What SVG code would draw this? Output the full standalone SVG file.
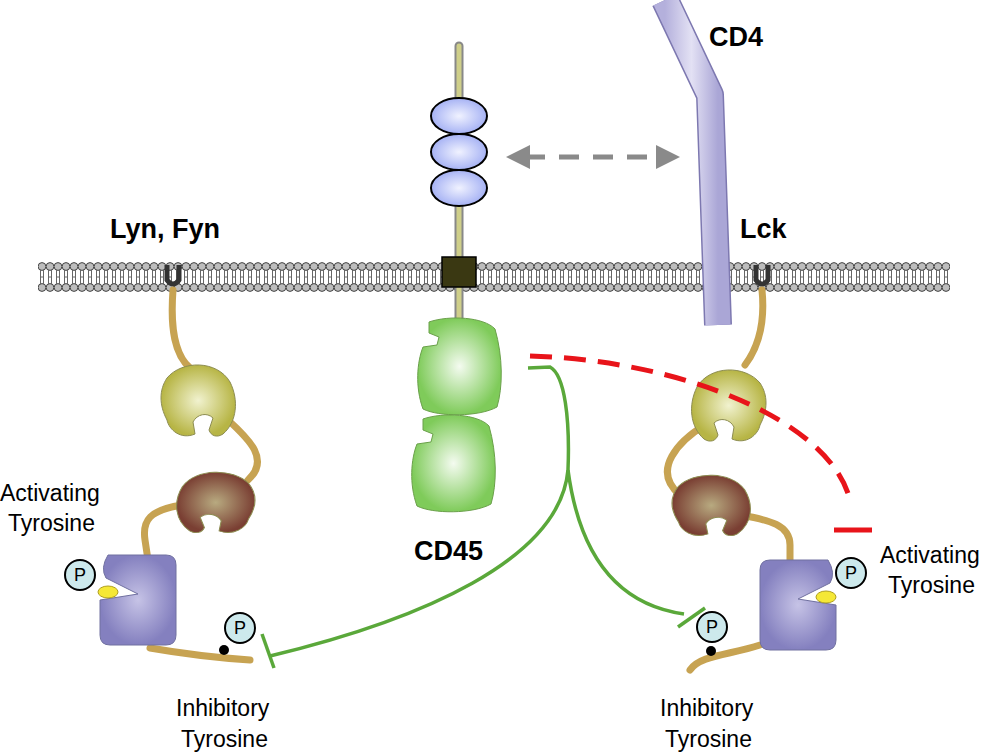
<svg xmlns="http://www.w3.org/2000/svg" width="993" height="753" viewBox="0 0 993 753">
<style>
text{font-family:"Liberation Sans",Arial,sans-serif;fill:#000}
.lbl{font-size:23px}
.bold{font-size:27px;font-weight:bold}
.chain{fill:none;stroke:#c7a352;stroke-width:7;stroke-linecap:round}
.p circle{fill:#cde9ec;stroke:#000;stroke-width:2}
.p text{font-size:18px}
.inh{fill:none;stroke:#5aa83a;stroke-width:3.5}
</style>
<defs>
<pattern id="mem" x="38" y="262" width="8" height="30" patternUnits="userSpaceOnUse">
<line x1="2.5" y1="6" x2="2.5" y2="24" stroke="#666" stroke-width="1"/>
<line x1="5.5" y1="6" x2="5.5" y2="24" stroke="#666" stroke-width="1"/>
<line x1="2.5" y1="15" x2="5.5" y2="15" stroke="#666" stroke-width="1"/>
<ellipse cx="4" cy="4.5" rx="3.9" ry="3.9" fill="#bdbdbd" stroke="#444" stroke-width="1"/>
<ellipse cx="4" cy="25.5" rx="3.9" ry="3.9" fill="#bdbdbd" stroke="#444" stroke-width="1"/>
</pattern>
<radialGradient id="gY"><stop offset="0" stop-color="#f1f2cf"/><stop offset="1" stop-color="#b7b545"/></radialGradient>
<radialGradient id="gB"><stop offset="0" stop-color="#b8aa80"/><stop offset="1" stop-color="#7a3f33"/></radialGradient>
<radialGradient id="gP"><stop offset="0" stop-color="#c6c3e6"/><stop offset="1" stop-color="#8480bf"/></radialGradient>
<radialGradient id="gG"><stop offset="0" stop-color="#f4fbf0"/><stop offset="1" stop-color="#7fcb5a"/></radialGradient>
<radialGradient id="gE"><stop offset="0" stop-color="#f0f2ff"/><stop offset="1" stop-color="#a6b2f4"/></radialGradient>
<linearGradient id="gCD4" x1="0" x2="1"><stop offset="0" stop-color="#b4b0dc"/><stop offset="0.5" stop-color="#e3e1f4"/><stop offset="1" stop-color="#aaa6d6"/></linearGradient>
<path id="yb" d="M-30,-22 C-15,-40 20,-40 33,-18 C42,0 40,22 26,34 C20,38 14,36 12,30 L16,18 C10,12 0,14 -4,22 L-2,34 C-16,40 -28,30 -30,20 C-38,5 -38,-10 -30,-22 Z" stroke="#8c8c50" stroke-width="1"/>
<path id="pb" d="M-30,-45 H28 Q38,-45 38,-35 V35 Q38,45 28,45 H-28 Q-38,45 -38,35 V0 L0,-6 L-32,-22 Q-38,-32 -30,-45 Z" stroke="#7070a0" stroke-width="1"/>
<path id="gb" d="M-30,-45 C-10,-52 25,-50 36,-38 C44,-10 44,20 38,40 C20,50 -20,50 -36,42 C-44,20 -42,-5 -36,-20 L-22,-22 L-20,-30 L-30,-34 Z" stroke="#6aa04a" stroke-width="1"/>
</defs>

<g id="membrane"><rect x="38" y="262" width="912" height="30" fill="url(#mem)"/></g>

<g id="CD4">
<path d="M665,0 L710,95 L718,325" fill="none" stroke="#7d78b0" stroke-width="28" stroke-linejoin="round"/>
<path d="M665,0 L710,95 L718,325" fill="none" stroke="url(#gCD4)" stroke-width="25" stroke-linejoin="round"/>
<text class="bold" x="709" y="46">CD4</text>
</g>

<g id="CD45">
<line x1="459" y1="46" x2="459" y2="330" stroke="#888" stroke-width="9" stroke-linecap="round"/>
<line x1="459" y1="46" x2="459" y2="330" stroke="#cfcf8a" stroke-width="5" stroke-linecap="round"/>
<ellipse cx="459" cy="116" rx="28" ry="18" fill="url(#gE)" stroke="#000" stroke-width="2"/>
<ellipse cx="459" cy="152" rx="28" ry="18" fill="url(#gE)" stroke="#000" stroke-width="2"/>
<ellipse cx="459" cy="188" rx="28" ry="18" fill="url(#gE)" stroke="#000" stroke-width="2"/>
<rect x="442" y="257" width="34" height="30" fill="#3a3812" stroke="#000" stroke-width="1.5"/>
<use href="#gb" transform="translate(459,367)" fill="url(#gG)"/>
<use href="#gb" transform="translate(453,464)" fill="url(#gG)"/>
<text class="bold" x="414" y="560">CD45</text>
</g>

<g id="LynFyn">
<text class="bold" x="110" y="238">Lyn, Fyn</text>
<path d="M167,265 V280 Q173,288 179,280 V265" fill="none" stroke="#333" stroke-width="5"/>
<path class="chain" d="M173,290 C170,330 175,355 190,368 M228,420 C250,440 270,460 248,480 M182,505 C150,510 142,520 145,540 L148,560 M150,648 C190,655 220,658 250,660"/>
<use href="#yb" transform="translate(197,400)" fill="url(#gY)"/>
<use href="#yb" transform="translate(217,502) scale(-1.05,0.85)" fill="url(#gB)"/>
<use href="#pb" transform="translate(138,600)" fill="url(#gP)"/>
<ellipse cx="108" cy="592" rx="10" ry="6" fill="#f5e836" stroke="#b0a020"/>
<g class="p"><circle cx="80" cy="575" r="15"/><text x="74" y="581">P</text></g>
<g class="p"><circle cx="240" cy="628" r="15"/><text x="234" y="634">P</text></g>
<circle cx="224" cy="650" r="5" fill="#000"/>
<text class="lbl" x="0" y="501">Activating</text>
<text class="lbl" x="8" y="531">Tyrosine</text>
<text class="lbl" x="176" y="716">Inhibitory</text>
<text class="lbl" x="181" y="747">Tyrosine</text>
</g>

<g id="Lck">
<text class="bold" x="740" y="238">Lck</text>
<path d="M756,265 V280 Q762,288 768,280 V265" fill="none" stroke="#333" stroke-width="5"/>
<path class="chain" d="M762,290 C765,320 760,345 745,365 M705,425 C680,440 650,470 680,495 M740,515 C770,520 790,525 790,545 L790,560 M760,645 C730,655 700,655 690,670"/>
<use href="#yb" transform="translate(730,405) scale(-1,1)" fill="url(#gY)"/>
<use href="#yb" transform="translate(710,505) scale(1.05,0.85)" fill="url(#gB)"/>
<use href="#pb" transform="translate(798,605) scale(-1,1)" fill="url(#gP)"/>
<ellipse cx="826" cy="597" rx="10" ry="6" fill="#f5e836" stroke="#b0a020"/>
<g class="p"><circle cx="851" cy="573" r="15"/><text x="845" y="579">P</text></g>
<g class="p"><circle cx="712" cy="627" r="15"/><text x="706" y="633">P</text></g>
<circle cx="711" cy="651" r="5" fill="#000"/>
<text class="lbl" x="880" y="563">Activating</text>
<text class="lbl" x="888" y="593">Tyrosine</text>
<text class="lbl" x="660" y="716">Inhibitory</text>
<text class="lbl" x="665" y="747">Tyrosine</text>
</g>

<g id="connectors">
<line x1="525" y1="157" x2="665" y2="157" stroke="#8a8a8a" stroke-width="5" stroke-dasharray="20,14"/>
<polygon points="506,157 530,145 530,169" fill="#8a8a8a"/>
<polygon points="680,157 656,145 656,169" fill="#8a8a8a"/>
<path d="M530,356 C680,360 830,420 850,500" fill="none" stroke="#e8141a" stroke-width="5" stroke-dasharray="22,12"/>
<line x1="834" y1="530" x2="872" y2="530" stroke="#e8141a" stroke-width="5"/>
<path class="inh" d="M528,368 L550,367 C565,375 570,420 568,470 C560,560 420,620 270,656"/>
<path class="inh" d="M568,470 C580,560 620,605 684,614"/>
<line x1="262" y1="634" x2="274" y2="668" stroke="#5aa83a" stroke-width="3.5"/>
<line x1="678" y1="627" x2="705" y2="608" stroke="#5aa83a" stroke-width="3.5"/>
</g>
</svg>
